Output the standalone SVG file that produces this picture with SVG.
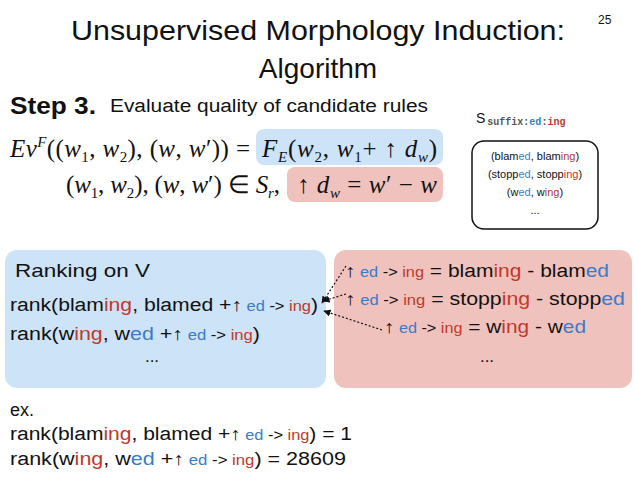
<svg xmlns="http://www.w3.org/2000/svg" width="638" height="479" viewBox="0 0 638 479">
<style>
text{font-family:"Liberation Sans",Arial,sans-serif;fill:#111}
.b{fill:#3a7cc7}.r{fill:#c0392b}
.m{font-family:"Liberation Serif","Times New Roman",serif;font-size:25px}
.i{font-style:italic}
.conn{stroke:#111;stroke-width:1.2;stroke-dasharray:2,2;fill:none}
</style>
<defs><marker id="ah" viewBox="0 0 10 10" refX="9" refY="5" markerWidth="6" markerHeight="6" orient="auto"><path d="M0,0L10,5L0,10z" fill="#111"/></marker></defs>
<rect width="638" height="479" fill="#fff"/>
<text x="318" y="40" font-size="28" text-anchor="middle" textLength="494" lengthAdjust="spacingAndGlyphs">Unsupervised Morphology Induction:</text>
<text x="318" y="78" font-size="28" text-anchor="middle">Algorithm</text>
<text x="598" y="24" font-size="12">25</text>
<text x="10" y="114" font-size="23" font-weight="bold" textLength="86" lengthAdjust="spacingAndGlyphs">Step 3.</text>
<text x="110" y="112" font-size="18" textLength="318" lengthAdjust="spacingAndGlyphs">Evaluate quality of candidate rules</text>
<g id="formula">
<rect x="256" y="129" width="187" height="36" rx="8" fill="#cde3f8"/>
<rect x="287" y="167" width="156" height="35" rx="8" fill="#f0c2bd"/>
<text class="m" x="10" y="157" textLength="240" lengthAdjust="spacing"><tspan class="i">Ev</tspan><tspan font-size="15" dy="-10" class="i">F</tspan><tspan dy="10">((</tspan><tspan class="i">w</tspan><tspan font-size="15" dy="5">1</tspan><tspan dy="-5">, </tspan><tspan class="i">w</tspan><tspan font-size="15" dy="5">2</tspan><tspan dy="-5">), (</tspan><tspan class="i">w</tspan>, <tspan class="i">w</tspan>′)) =</text>
<text class="m" x="262" y="157" textLength="175" lengthAdjust="spacing"><tspan class="i">F</tspan><tspan font-size="15" dy="5" class="i">E</tspan><tspan dy="-5">(</tspan><tspan class="i">w</tspan><tspan font-size="15" dy="5">2</tspan><tspan dy="-5">, </tspan><tspan class="i">w</tspan><tspan font-size="15" dy="5">1</tspan><tspan dy="-5">+ ↑ </tspan><tspan class="i">d</tspan><tspan font-size="15" dy="5" class="i">w</tspan><tspan dy="-5">)</tspan></text>
<text class="m" x="66" y="193" textLength="214" lengthAdjust="spacing">(<tspan class="i">w</tspan><tspan font-size="15" dy="5">1</tspan><tspan dy="-5">, </tspan><tspan class="i">w</tspan><tspan font-size="15" dy="5">2</tspan><tspan dy="-5">), (</tspan><tspan class="i">w</tspan>, <tspan class="i">w</tspan>′) ∈ <tspan class="i">S</tspan><tspan font-size="15" dy="5" class="i">r</tspan><tspan dy="-5">,</tspan></text>
<text class="m" x="297" y="193" textLength="140" lengthAdjust="spacing">↑ <tspan class="i">d</tspan><tspan font-size="15" dy="5" class="i">w</tspan><tspan dy="-5"> = </tspan><tspan class="i">w</tspan>′ − <tspan class="i">w</tspan></text>
</g>
<g id="sbox">
<text x="476" y="123" font-size="14">S<tspan font-family="Liberation Mono,monospace" font-size="10" font-weight="bold" dx="2" dy="2" fill="#555">suffix:<tspan class="b">ed</tspan>:<tspan class="r">ing</tspan></tspan></text>
<rect x="472" y="141" width="126" height="88" rx="12" fill="#fff" stroke="#111" stroke-width="1.5"/>
<text x="535" y="160" font-size="11" text-anchor="middle">(blam<tspan class="b">ed</tspan>, blam<tspan class="r">ing</tspan>)</text>
<text x="535" y="178" font-size="11" text-anchor="middle">(stopp<tspan class="b">ed</tspan>, stopp<tspan class="r">ing</tspan>)</text>
<text x="535" y="196" font-size="11" text-anchor="middle">(w<tspan class="b">ed</tspan>, w<tspan class="r">ing</tspan>)</text>
<text x="535" y="214" font-size="11" text-anchor="middle">...</text>
</g>
<g id="ranking">
<rect x="5" y="250" width="321" height="138" rx="12" fill="#cde3f8"/>
<text x="15" y="277" font-size="19" textLength="135" lengthAdjust="spacingAndGlyphs">Ranking on V</text>
<text x="10" y="311" font-size="18" textLength="308" lengthAdjust="spacingAndGlyphs">rank(blam<tspan class="r">ing</tspan>, blamed +↑<tspan class="b" font-size="14"> ed</tspan><tspan font-size="14"> -&gt; </tspan><tspan class="r" font-size="14">ing</tspan>)</text>
<text x="10" y="340" font-size="18" textLength="250" lengthAdjust="spacingAndGlyphs">rank(w<tspan class="r">ing</tspan>, w<tspan class="b">ed</tspan> +↑<tspan class="b" font-size="14"> ed</tspan><tspan font-size="14"> -&gt; </tspan><tspan class="r" font-size="14">ing</tspan>)</text>
<text x="152" y="362" font-size="17" text-anchor="middle">...</text>
</g>
<g id="vectors">
<rect x="334" y="250" width="298" height="138" rx="12" fill="#f0c2bd"/>
<text x="345" y="277" font-size="18" textLength="264" lengthAdjust="spacingAndGlyphs">↑<tspan class="b" font-size="14"> ed</tspan><tspan font-size="14"> -&gt; </tspan><tspan class="r" font-size="14">ing</tspan> = blam<tspan class="r">ing</tspan> - blam<tspan class="b">ed</tspan></text>
<text x="345" y="305" font-size="18" textLength="280" lengthAdjust="spacingAndGlyphs">↑<tspan class="b" font-size="14"> ed</tspan><tspan font-size="14"> -&gt; </tspan><tspan class="r" font-size="14">ing</tspan> = stopp<tspan class="r">ing</tspan> - stopp<tspan class="b">ed</tspan></text>
<text x="384" y="333" font-size="18" textLength="202" lengthAdjust="spacingAndGlyphs">↑<tspan class="b" font-size="14"> ed</tspan><tspan font-size="14"> -&gt; </tspan><tspan class="r" font-size="14">ing</tspan> = w<tspan class="r">ing</tspan> - w<tspan class="b">ed</tspan></text>
<text x="487" y="362" font-size="17" text-anchor="middle">...</text>
</g>
<g id="connectors">
<path class="conn" d="M346,266 L322,303" marker-end="url(#ah)"/>
<path class="conn" d="M346,294 L323,301" marker-end="url(#ah)"/>
<path class="conn" d="M382,330 L324,311" marker-end="url(#ah)"/>
</g>
<g id="example">
<text x="10" y="416" font-size="18">ex.</text>
<text x="10" y="440" font-size="18" textLength="342" lengthAdjust="spacingAndGlyphs">rank(blam<tspan class="r">ing</tspan>, blamed +↑<tspan class="b" font-size="14"> ed</tspan><tspan font-size="14"> -&gt; </tspan><tspan class="r" font-size="14">ing</tspan>) = 1</text>
<text x="10" y="465" font-size="18" textLength="336" lengthAdjust="spacingAndGlyphs">rank(w<tspan class="r">ing</tspan>, w<tspan class="b">ed</tspan> +↑<tspan class="b" font-size="14"> ed</tspan><tspan font-size="14"> -&gt; </tspan><tspan class="r" font-size="14">ing</tspan>) = 28609</text>
</g>
</svg>
